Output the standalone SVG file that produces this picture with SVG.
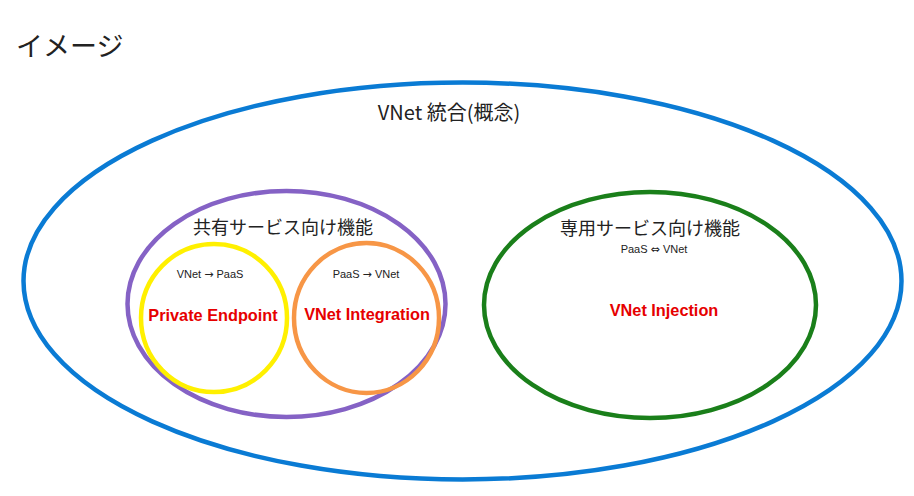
<svg xmlns="http://www.w3.org/2000/svg" width="914" height="496" viewBox="0 0 914 496">
<style>
.t{font-family:"Noto Sans CJK JP","Liberation Sans",sans-serif;fill:#222}
.s{font-family:"Liberation Sans","Noto Sans CJK JP",sans-serif;font-size:11px;fill:#222;text-anchor:middle}
.a{font-family:"DejaVu Sans",sans-serif}
.b{font-family:"Liberation Sans",sans-serif;font-size:16.3px;font-weight:bold;fill:#e60000;text-anchor:middle}
.o{fill:none;stroke-width:4.5}
</style>
<rect width="914" height="496" fill="#fff"/>
<text class="t" x="16" y="56" font-size="27">イメージ</text>
<g id="vnet">
<ellipse class="o" cx="462.5" cy="281" rx="439" ry="198.5" stroke="#0a7bd4"/>
<text class="t" x="449" y="120" font-size="20" text-anchor="middle">VNet 統合(概念)</text>
</g>
<g id="shared">
<ellipse class="o" cx="286.5" cy="304" rx="159" ry="113" stroke="#8562c5"/>
<text class="t" x="283" y="234" font-size="18" text-anchor="middle">共有サービス向け機能</text>
</g>
<g id="pe">
<ellipse class="o" cx="214" cy="318" rx="73" ry="74" stroke="#fff000"/>
<text class="s" x="210" y="278">VNet <tspan class="a">→</tspan> PaaS</text>
<text class="b" x="213" y="321">Private Endpoint</text>
</g>
<g id="vi">
<ellipse class="o" cx="366.5" cy="318" rx="72.5" ry="75" stroke="#f79646"/>
<text class="s" x="366" y="278">PaaS <tspan class="a">→</tspan> VNet</text>
<text class="b" x="367" y="320">VNet Integration</text>
</g>
<g id="dedicated">
<ellipse class="o" cx="650" cy="305" rx="166" ry="113" stroke="#1a7f1a"/>
<text class="t" x="650" y="235" font-size="18" text-anchor="middle">専用サービス向け機能</text>
<text class="s" x="654" y="253">PaaS <tspan class="a">⇔</tspan> VNet</text>
<text class="b" x="664" y="316">VNet Injection</text>
</g>
<g id="connectors"/>
</svg>
